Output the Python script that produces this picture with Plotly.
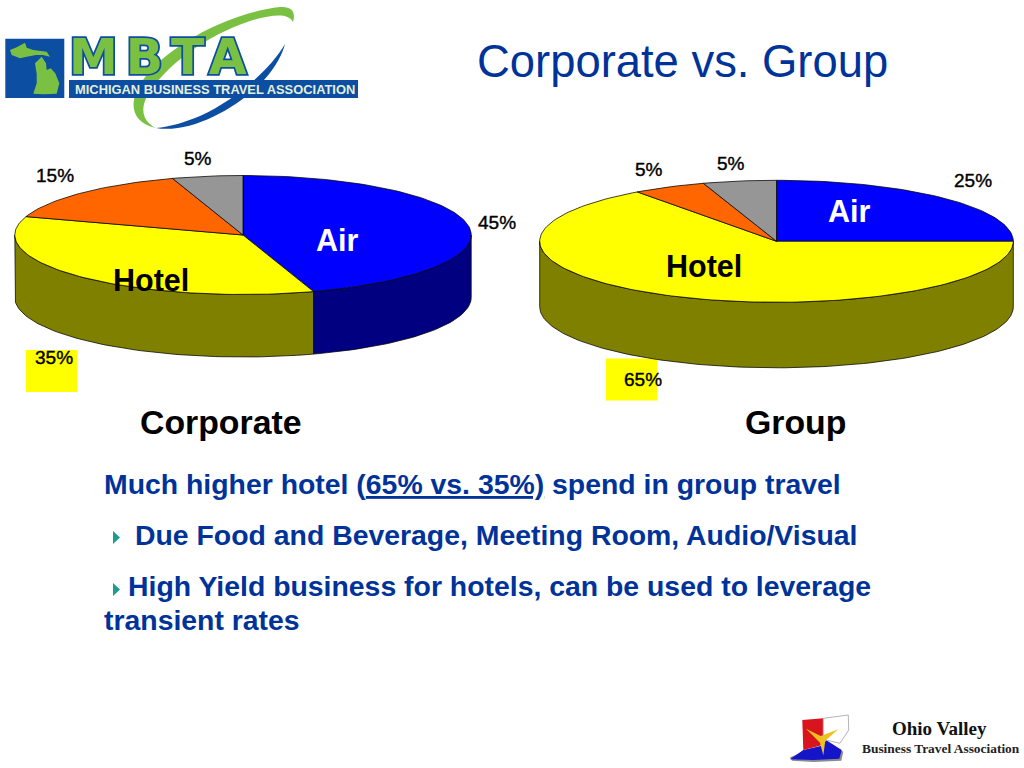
import math
import plotly.graph_objects as go

# ---- data ----
categories = ["Air", "Hotel", "Other", "Misc"]
corporate_values = [45, 35, 15, 5]
group_values = [25, 65, 5, 5]
chart_names = ["Corporate", "Group"]
title_text = "Corporate vs. Group"

BLUE_TEXT = "#003399"
top_colors = ["#0000FF", "#FFFF00", "#FF6600", "#969696"]
wall_colors = ["#000080", "#808000", "#993D00", "#5A5A5A"]
FONT = "Liberation Sans, Arial, sans-serif"
SERIF = "Liberation Serif, Times New Roman, serif"

fig = go.Figure()
shapes = []
annotations = []


def text(x, y, s, size, color="black", bold=False, family=FONT, anchor="center"):
    annotations.append(dict(
        x=x, y=y, xref="x", yref="y", text=f"<b>{s}</b>" if bold else s,
        showarrow=False, xanchor=anchor, yanchor="middle", borderpad=0, borderwidth=0,
        font=dict(family=family, size=size, color=color), align="left"))


def rect(x0, y0, x1, y1, color):
    shapes.append(dict(type="rect", x0=x0, y0=y0, x1=x1, y1=y1, xref="x", yref="y",
                       fillcolor=color, line=dict(width=0), layer="below"))


def poly(points, color, ox=0.0, oy=0.0, k=1.0, line=None):
    """Polygon for decoration, points given in logo-local units."""
    p = "M" + " L".join(f"{ox + x * k:.1f},{oy + y * k:.1f}" for x, y in points) + " Z"
    shapes.append(dict(type="path", path=p, xref="x", yref="y", fillcolor=color,
                       line=dict(width=0) if line is None else line, layer="below"))


def arc(cx, cy, rx, ry, a0, a1, dy=0.0):
    n = max(2, int(abs(a1 - a0) / 1.5) + 1)
    xs, ys = [], []
    for i in range(n + 1):
        a = math.radians(a0 + (a1 - a0) * i / n)
        xs.append(cx + rx * math.sin(a))
        ys.append(cy - ry * math.cos(a) + dy)
    return xs, ys


def add_pie(values, cx, cy, rx, ry, depth):
    total = sum(values)
    spans, start = [], 0.0
    for v in values:
        end = start + 360.0 * v / total
        spans.append((start, end))
        start = end
    # side wall: only the front half of the rim is visible
    for (a0, a1), col in zip(spans, wall_colors):
        lo, hi = max(a0, 90.0), min(a1, 270.0)
        if hi <= lo:
            continue
        xt, yt = arc(cx, cy, rx, ry, lo, hi)
        xb, yb = arc(cx, cy, rx, ry, lo, hi, depth)
        fig.add_trace(go.Scatter(x=xt + xb[::-1] + xt[:1], y=yt + yb[::-1] + yt[:1],
                                 mode="lines", fill="toself", fillcolor=col,
                                 line=dict(color="black", width=0.75),
                                 hoverinfo="skip", showlegend=False))
    # top face
    for (a0, a1), col in zip(spans, top_colors):
        xs, ys = arc(cx, cy, rx, ry, a0, a1)
        fig.add_trace(go.Scatter(x=[cx] + xs + [cx], y=[cy] + ys + [cy],
                                 mode="lines", fill="toself", fillcolor=col,
                                 line=dict(color="black", width=0.75),
                                 hoverinfo="skip", showlegend=False))


# ---- yellow boxes behind the 35% / 65% labels ----
rect(26, 350, 77, 392, "#FFFF00")
rect(606, 358.5, 657, 400.5, "#FFFF00")

# ---- MBTA logo ----
LB, LG = "#0B4EA2", "#7AC143"
Z = 1 / 3
shapes.append(dict(type="path", xref="x", yref="y", fillcolor=LG, line=dict(width=0), layer="below",
    path="M156,128 C128,122 128,98 146,76 C175,40 235,12 280,7 C292,6 296,12 293,22 "
         "C288,12 270,15 250,21 C205,36 165,66 147,96 C140,110 143,122 156,128 Z"))
shapes.append(dict(type="path", xref="x", yref="y", fillcolor=LB, line=dict(width=0), layer="below",
    path="M156,128 C190,134 238,108 264,80 C277,66 283,52 285,44 C270,70 235,100 200,116 "
         "C185,122 170,127 156,128 Z"))
rect(5.3, 38.7, 64.3, 98, LB)
poly([(30, 150), (50, 142), (75, 128), (80, 143), (100, 150), (140, 155), (150, 170), (128, 165),
      (108, 165), (80, 170), (60, 175), (35, 165)], LG, 0, 0, Z)
poly([(100, 281), (110, 250), (110, 222), (105, 190), (125, 170), (138, 190), (140, 210), (152, 205),
      (166, 220), (178, 250), (170, 281), (130, 283)], LG, 0, 0, Z)
rect(69, 80, 358, 98, LB)
annotations.append(dict(
    x=67, y=57, xref="x", yref="y", showarrow=False, xanchor="left", yanchor="middle",
    text=f'<span style="letter-spacing:8px;stroke:{LB};stroke-width:3.5px;paint-order:stroke"><b>MBTA</b></span>',
    font=dict(family="DejaVu Sans, sans-serif", size=49, color=LG)))
annotations.append(dict(
    x=73, y=89, xref="x", yref="y", showarrow=False, xanchor="left", yanchor="middle",
    text='<b>MICHIGAN BUSINESS TRAVEL ASSOCIATION</b>',
    font=dict(family=FONT, size=12.9, color="#E4EEDC")))

# ---- Ohio Valley logo ----
OX, OY = 770, 700
poly([(66, 182), (60, 172), (100, 156), (150, 142), (170, 128), (220, 155), (214, 182), (130, 186)], "#8A8A8A", OX, OY, Z)
poly([(60, 178), (100, 150), (155, 137), (168, 120), (215, 150), (208, 176), (130, 180)], "#1414C8", OX, OY, Z)
poly([(97, 60), (160, 55), (160, 130), (150, 137), (100, 150)], "#D8141C", OX, OY, Z)
poly([(160, 55), (235, 45), (236, 90), (210, 130), (168, 120), (160, 130)], "#FFFFFF", OX, OY, Z,
     line=dict(color="#B5B5B5", width=1))
poly([(108, 86), (152, 108), (205, 88), (166, 122), (160, 166), (150, 128)], "#F0C020", OX, OY, Z)
text(939, 728, "<b>Ohio Valley</b>", 19, "#111111", family=SERIF)
text(940.5, 748, "<b>Business Travel Association</b>", 13.4, "#222222", family=SERIF)

# ---- pies ----
add_pie(corporate_values, 243, 235, 228.2, 59.5, 62.5)
add_pie(group_values, 776.5, 241.3, 236.8, 61, 65.5)


def pct(x, y, v):
    text(x, y, f'<span style="stroke:black;stroke-width:0.4px">{v}%</span>', 19)


# ---- pie labels (read from the values) ----
for (x, y), v in zip([(497, 222.5), (54, 357.5), (55, 175.5), (198, 158.5)], corporate_values):
    pct(x, y, v)
for (x, y), v in zip([(973, 180.5), (643, 379.5), (649, 169.5), (731, 163.5)], group_values):
    pct(x, y, v)
text(337, 239.5, categories[0], 30.5, "white", bold=True)
text(151, 279.5, categories[1], 30.5, "black", bold=True)
text(849, 210.5, categories[0], 30.5, "white", bold=True)
text(704, 265.5, categories[1], 30.5, "black", bold=True)
text(221, 422, chart_names[0], 33.8, bold=True)
text(795.5, 422, chart_names[1], 33.8, bold=True)

# ---- title and body ----
text(477, 61.5, title_text, 45.4, BLUE_TEXT, anchor="left")
text(104, 483.5, "Much higher hotel (<u>65% vs. 35%)</u> spend in group travel", 28.4, BLUE_TEXT, True, anchor="left")
text(135, 535, "Due Food and Beverage, Meeting Room, Audio/Visual", 28.4, BLUE_TEXT, True, anchor="left")
text(128, 586, "High Yield business for hotels, can be used to leverage", 28.4, BLUE_TEXT, True, anchor="left")
text(104, 620, "transient rates", 28.4, BLUE_TEXT, True, anchor="left")
poly([(113, 531), (120, 537.5), (113, 544)], "#1B9E8F")
poly([(113, 583), (120, 589.5), (113, 596)], "#1B9E8F")

fig.update_layout(
    width=1024, height=768, margin=dict(l=0, r=0, t=0, b=0, pad=0), autosize=False,
    paper_bgcolor="white", plot_bgcolor="white", showlegend=False,
    xaxis=dict(range=[0, 1024], visible=False, fixedrange=True),
    yaxis=dict(range=[768, 0], visible=False, fixedrange=True),
    shapes=shapes, annotations=annotations,
)
fig.write_html("out.html", config=dict(displayModeBar=False, responsive=False),
               post_script="document.body.style.margin='0';document.body.style.overflow='hidden';")
